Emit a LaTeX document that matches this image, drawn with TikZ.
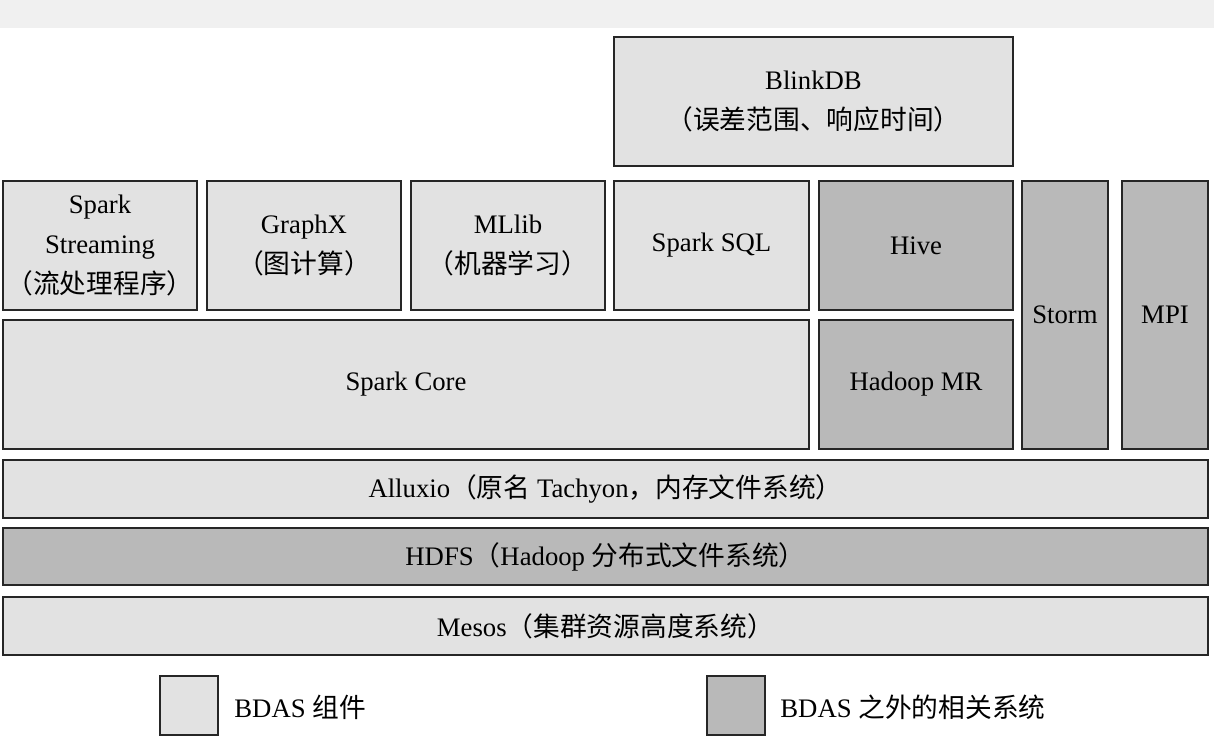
\documentclass[tikz,border=0pt]{standalone}
\usepackage{fontspec}
\setmainfont{Liberation Serif}
\newfontfamily\cjk{Noto Sans CJK SC}
\newcommand{\zh}[1]{{\cjk #1}}
\usetikzlibrary{positioning}

\definecolor{bdaslite}{HTML}{E2E2E2}
\definecolor{bdasdark}{HTML}{B9B9B9}

\tikzset{
    layer/.style={draw=black!85, line width=0.5pt, align=center, inner sep=1pt,
        font=\fontsize{7.6}{11.3}\selectfont},
    lite/.style={layer, fill=bdaslite},
    dark/.style={layer, fill=bdasdark},
}

\begin{document}
\begin{tikzpicture}[x=0.01cm, y=-0.01cm]
    \useasboundingbox (0,0) rectangle (1214,735);
    \fill[black!6] (0,0) rectangle (1214,28);

    % top layer
    \node[lite, minimum width=3.99cm, minimum height=1.29cm] (blink) at (813.5,101.5)
        {BlinkDB\\\zh{（误差范围、响应时间）}};

    % libraries
    \node[lite, minimum width=1.94cm, minimum height=1.29cm] (stream) at (100,245.5)
        {Spark\\Streaming\\\zh{（流处理程序）}};
    \node[lite, minimum width=1.94cm, minimum height=1.29cm] (graphx) at (304,245.5)
        {GraphX\\\zh{（图计算）}};
    \node[lite, minimum width=1.94cm, minimum height=1.29cm] (mllib) at (508,245.5)
        {MLlib\\\zh{（机器学习）}};
    \node[lite, minimum width=1.95cm, minimum height=1.29cm] (sql) at (711.5,245.5)
        {Spark SQL};
    \node[dark, minimum width=1.94cm, minimum height=1.29cm] (hive) at (916,245.5)
        {Hive};
    \node[dark, minimum width=0.86cm, minimum height=2.68cm] (storm) at (1065,315)
        {Storm};
    \node[dark, minimum width=0.86cm, minimum height=2.68cm] (mpi) at (1165,315)
        {MPI};

    % engines
    \node[lite, minimum width=8.06cm, minimum height=1.29cm] (core) at (406,384.5)
        {Spark Core};
    \node[dark, minimum width=1.94cm, minimum height=1.29cm] (hmr) at (916,384.5)
        {Hadoop MR};

    % storage and resources
    \node[lite, minimum width=12.05cm, minimum height=0.58cm] (alluxio) at (605.5,489)
        {Alluxio\zh{（原名} Tachyon\zh{，内存文件系统）}};
    \node[dark, minimum width=12.05cm, minimum height=0.57cm] (hdfs) at (605.5,556.5)
        {HDFS\zh{（}Hadoop \zh{分布式文件系统）}};
    \node[lite, minimum width=12.05cm, minimum height=0.58cm] (mesos) at (605.5,626)
        {Mesos\zh{（集群资源高度系统）}};

    % legend
    \node[lite, minimum width=0.58cm, minimum height=0.59cm] (keylite) at (189,705.5) {};
    \node[layer, draw=none, anchor=west] (txtlite) at (230,707) {BDAS \zh{组件}};
    \node[dark, minimum width=0.58cm, minimum height=0.59cm] (keydark) at (736,705.5) {};
    \node[layer, draw=none, anchor=west] (txtdark) at (776,707) {BDAS \zh{之外的相关系统}};
\end{tikzpicture}
\end{document}
